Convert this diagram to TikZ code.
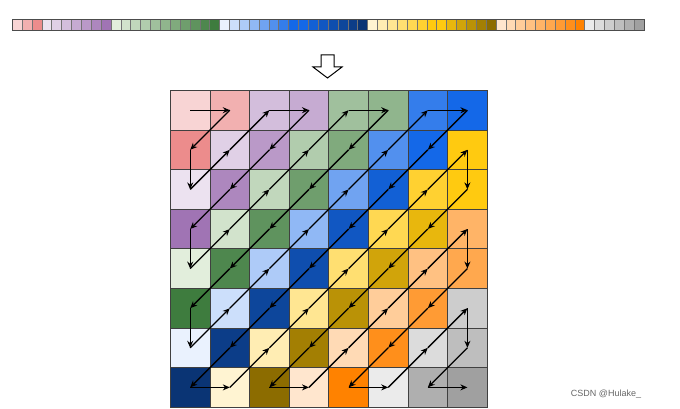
\documentclass[tikz,border=0pt]{standalone}
\usepackage{fontspec}
\setmainfont{Liberation Sans}
\usetikzlibrary{arrows.meta}
\definecolor{r0}{HTML}{F8D4D4}\definecolor{r1}{HTML}{EC8C8C}
\definecolor{p0}{HTML}{ECE2F0}\definecolor{p1}{HTML}{A074B4}
\definecolor{g0}{HTML}{E2EEDC}\definecolor{g1}{HTML}{3E7C3E}
\definecolor{b0}{HTML}{EAF2FE}\definecolor{b1}{HTML}{1468E8}\definecolor{b2}{HTML}{0A3474}
\definecolor{y0}{HTML}{FFF4D2}\definecolor{y1}{HTML}{FFCA10}\definecolor{y2}{HTML}{8C6C00}
\definecolor{o0}{HTML}{FFE6CE}\definecolor{o1}{HTML}{FF8200}
\definecolor{k0}{HTML}{EBEBEB}\definecolor{k1}{HTML}{A0A0A0}
\tikzset{cellbox/.style={draw=black!75,line width=0.8pt},
 stripbox/.style={draw=black!55,line width=0.5pt},
 zz/.style={-{Stealth[length=7pt,width=6pt]},line width=1.3pt}}
\begin{document}
\begin{tikzpicture}[x=1pt,y=-1pt]
\useasboundingbox (0,0) rectangle (680,409);
\def\zzlist{0/0,0/1,1/0,2/0,1/1,0/2,0/3,1/2,2/1,3/0,4/0,3/1,2/2,1/3,0/4,0/5,1/4,2/3,3/2,4/1,5/0,6/0,5/1,4/2,3/3,2/4,1/5,0/6,0/7,1/6,2/5,3/4,4/3,5/2,6/1,7/0,7/1,6/2,5/3,4/4,3/5,2/6,1/7,2/7,3/6,4/5,5/4,6/3,7/2,7/3,6/4,5/5,4/6,3/7,4/7,5/6,6/5,7/4,7/5,6/6,5/7,6/7,7/6,7/7}
\def\grp{0/3/r0/r1,3/7/p0/p1,10/11/g0/g1,21/8/b0/b1,29/7/b1/b2,36/7/y0/y1,43/6/y1/y2,49/9/o0/o1,58/6/k0/k1}
\foreach \s/\n/\A/\B in \grp {
  \foreach \k in {1,...,\n} {
    \pgfmathtruncatemacro\idx{\s+\k-1}
    \pgfmathtruncatemacro\t{100*(\k-1)/(\n-1)}
    \xglobal\colorlet{cc\idx}{\B!\t!\A}
  }
}
\def\cs{39.6}
\foreach \r/\c [count=\i from 0] in \zzlist {
  \node[cellbox,fill=cc\i,minimum size=\cs pt,inner sep=0pt,anchor=north west] (c\r\c) at (170+\c*\cs,90+\r*\cs) {};
  \node[stripbox,fill=cc\i,minimum width=9.87pt,minimum height=11pt,inner sep=0pt,anchor=north west] (s\i) at (12+\i*9.87,19.5) {};
}
\draw[black!70,line width=1pt] (s0.north west) rectangle (s63.south east);
\draw[line width=1pt,fill=white] (321,55) -- (334,55) -- (334,67) -- (342,67) -- (327.5,78) -- (313,67) -- (321,67) -- cycle;
\foreach \r/\c [count=\i from 0, remember=\r as \pr (initially X), remember=\c as \pc (initially X)] in \zzlist {
  \ifnum\i>0 \draw[zz] (c\pr\pc.center) -- (c\r\c.center); \fi
}
\node[text=black!60,font=\fontsize{9}{10}\selectfont] (wm) at (606,394) {CSDN @Hulake\_};
\end{tikzpicture}
\end{document}
